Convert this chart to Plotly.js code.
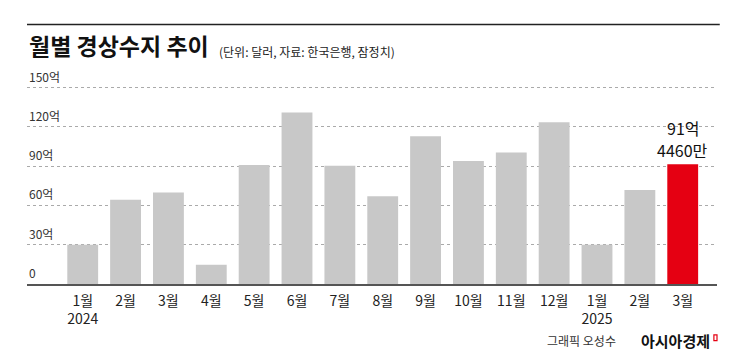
<!DOCTYPE html>
<html>
<head>
<meta charset="utf-8">
<script src="https://cdn.plot.ly/plotly-3.0.1.min.js"></script>
<style>html,body{margin:0;padding:0;background:#fff}#chart{width:745px;height:363px}</style>
</head>
<body>
<div id="chart"></div>
<script>
const months = ['1월','2월','3월','4월','5월','6월','7월','8월','9월','10월','11월','12월','1월','2월','3월'];
const years  = ['2024','','','','','','','','','','','','2025','',''];
const values = [30, 64.4, 69.8, 14.7, 90.9, 131, 90.3, 67, 112.9, 93.9, 100.5, 123.6, 29.9, 71.8, 91.446];
const yTickVals = [0, 30, 60, 90, 120, 150];
const yTickText = ['0', '30억', '60억', '90억', '120억', '150억'];
const lastLabelLines = ['91억', '4460만'];
const titleText = '월별 경상수지 추이';
const subtitleText = '(단위: 달러, 자료: 한국은행, 잠정치)';
const creditText = '그래픽 오성수';
const brandText = '아시아경제';

const FONT = '"Noto Sans CJK KR", "Noto Sans", sans-serif';
const cats = months.map((m, i) => i);
const tickText = months.map((m, i) => years[i] ? m + '<br>' + years[i] : m);
const colors = values.map((v, i) => i === values.length - 1 ? '#e50012' : '#c8c8c8');

const annotations = [];
yTickVals.forEach((v, i) => {
  annotations.push({
    xref: 'paper', yref: 'y', x: 0, y: v, xanchor: 'left', yanchor: 'bottom',
    yshift: 1, text: yTickText[i], showarrow: false,
    font: {family: FONT, size: 12, color: '#333'}
  });
});
lastLabelLines.forEach((t, i) => {
  annotations.push({
    xref: 'x', yref: 'y', x: cats[cats.length - 1], y: values[values.length - 1],
    xanchor: 'center', yanchor: 'bottom',
    yshift: 1 + (lastLabelLines.length - 1 - i) * 22,
    text: t, showarrow: false, borderpad: 0,
    font: {family: FONT, size: 16, color: '#111'}
  });
});
annotations.push({
  xref: 'paper', yref: 'paper', x: 0, y: 1.199, xanchor: 'left', yanchor: 'middle',
  text: '<b>' + titleText + '</b>', showarrow: false,
  font: {family: FONT, size: 23, color: '#111'}
});
annotations.push({
  xref: 'paper', yref: 'paper', x: 0.275, y: 1.167, xanchor: 'left', yanchor: 'middle',
  text: subtitleText, showarrow: false,
  font: {family: FONT, size: 12, color: '#222'}
});
annotations.push({
  xref: 'paper', yref: 'paper', x: 0.856, y: -0.284, xanchor: 'right', yanchor: 'middle',
  text: creditText, showarrow: false,
  font: {family: FONT, size: 12, color: '#333'}
});
annotations.push({
  xref: 'paper', yref: 'paper', x: 0.993, y: -0.284, xanchor: 'right', yanchor: 'middle',
  text: '<b>' + brandText + '</b>', showarrow: false,
  font: {family: FONT, size: 15, color: '#111'}
});

const data = [{
  type: 'bar', x: cats, y: values,
  marker: {color: colors, line: {width: 0}},
  hoverinfo: 'none'
}];

const layout = {
  width: 745, height: 363,
  margin: {l: 27, r: 28, t: 85, b: 79, pad: 0},
  paper_bgcolor: '#fff', plot_bgcolor: '#fff',
  bargap: 0.28,
  showlegend: false,
  xaxis: {
    range: [-1.30, 14.80], tickmode: 'array', tickvals: cats, ticktext: tickText,
    showgrid: false, zeroline: false, showline: true, linecolor: '#555', linewidth: 2,
    ticks: '', ticklabelstandoff: 3,
    tickfont: {family: FONT, size: 14, color: '#222'}, fixedrange: true
  },
  yaxis: {
    range: [0, 152], tickmode: 'array', tickvals: yTickVals.slice(1),
    showticklabels: false, showgrid: true, gridcolor: '#aaa', gridwidth: 1, griddash: 'dot',
    zeroline: false, showline: false, fixedrange: true
  },
  shapes: [
    {type: 'line', xref: 'paper', yref: 'paper', x0: 0, x1: 1.004, y0: 1.304, y1: 1.304,
     line: {color: '#222', width: 1.5}},
    {type: 'rect', xref: 'paper', yref: 'paper', x0: 0.9955, x1: 1.0, y0: -0.285, y1: -0.256,
     line: {color: '#e50012', width: 1.2}, fillcolor: 'rgba(0,0,0,0)'}
  ],
  annotations: annotations
};

Plotly.newPlot('chart', data, layout, {displayModeBar: false, staticPlot: true});
</script>
</body>
</html>
